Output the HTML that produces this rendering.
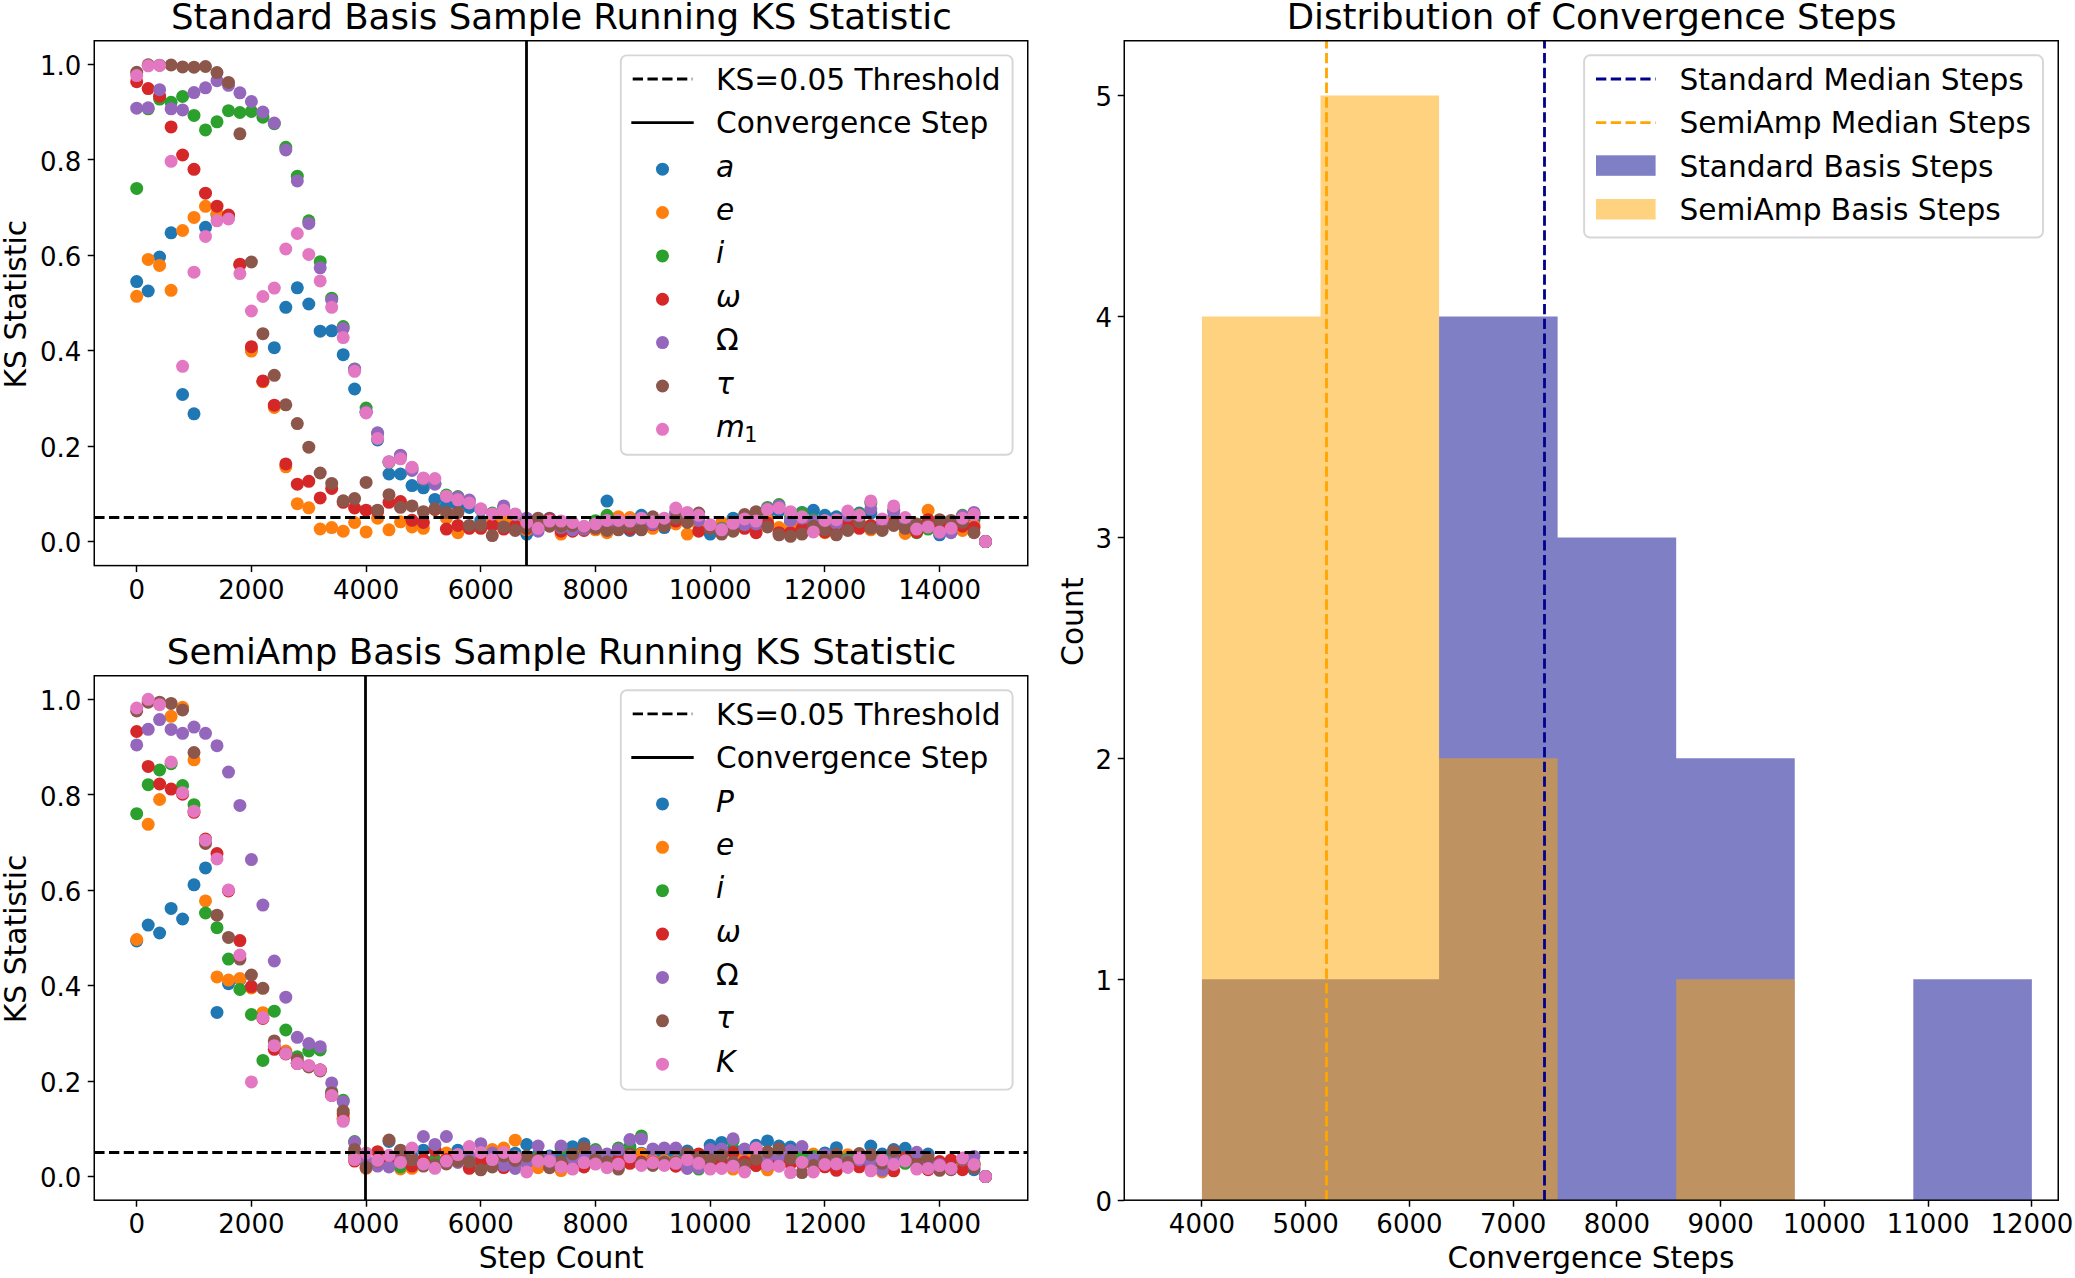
<!DOCTYPE html>
<html><head><meta charset="utf-8"><title>KS Convergence</title>
<style>html,body{margin:0;padding:0;background:#fff}svg{display:block}text{font-family:"DejaVu Sans","Liberation Sans",sans-serif;fill:#000}</style></head><body>
<svg width="2075" height="1278" viewBox="0 0 2075 1278">
<rect width="2075" height="1278" fill="#fff"/>
<g>
<g fill="#1f77b4"><circle cx="136.7" cy="281.6" r="6.5"/><circle cx="148.2" cy="291.0" r="6.5"/><circle cx="159.6" cy="257.0" r="6.5"/><circle cx="171.1" cy="232.8" r="6.5"/><circle cx="182.6" cy="394.5" r="6.5"/><circle cx="194.0" cy="413.8" r="6.5"/><circle cx="205.5" cy="227.3" r="6.5"/><circle cx="217.0" cy="215.0" r="6.5"/><circle cx="228.5" cy="216.1" r="6.5"/><circle cx="239.9" cy="264.9" r="6.5"/><circle cx="251.4" cy="349.6" r="6.5"/><circle cx="262.9" cy="381.5" r="6.5"/><circle cx="274.3" cy="347.7" r="6.5"/><circle cx="285.8" cy="307.3" r="6.5"/><circle cx="297.3" cy="287.8" r="6.5"/><circle cx="308.8" cy="304.0" r="6.5"/><circle cx="320.2" cy="331.2" r="6.5"/><circle cx="331.7" cy="330.8" r="6.5"/><circle cx="343.2" cy="354.7" r="6.5"/><circle cx="354.6" cy="389.0" r="6.5"/><circle cx="366.1" cy="412.2" r="6.5"/><circle cx="377.6" cy="440.0" r="6.5"/><circle cx="389.0" cy="474.0" r="6.5"/><circle cx="400.5" cy="474.0" r="6.5"/><circle cx="412.0" cy="485.6" r="6.5"/><circle cx="423.4" cy="487.8" r="6.5"/><circle cx="434.9" cy="499.4" r="6.5"/><circle cx="446.4" cy="504.5" r="6.5"/><circle cx="457.9" cy="505.2" r="6.5"/><circle cx="469.3" cy="507.4" r="6.5"/><circle cx="480.8" cy="520.4" r="6.5"/><circle cx="492.3" cy="518.2" r="6.5"/><circle cx="503.7" cy="519.7" r="6.5"/><circle cx="515.2" cy="519.7" r="6.5"/><circle cx="526.7" cy="534.1" r="6.5"/><circle cx="538.1" cy="522.5" r="6.5"/><circle cx="549.6" cy="518.2" r="6.5"/><circle cx="561.1" cy="525.4" r="6.5"/><circle cx="572.6" cy="526.9" r="6.5"/><circle cx="584.0" cy="527.6" r="6.5"/><circle cx="595.5" cy="524.7" r="6.5"/><circle cx="607.0" cy="501.1" r="6.5"/><circle cx="618.4" cy="523.3" r="6.5"/><circle cx="629.9" cy="530.5" r="6.5"/><circle cx="641.4" cy="515.3" r="6.5"/><circle cx="652.8" cy="523.3" r="6.5"/><circle cx="664.3" cy="527.6" r="6.5"/><circle cx="675.8" cy="513.9" r="6.5"/><circle cx="687.3" cy="518.9" r="6.5"/><circle cx="698.7" cy="518.9" r="6.5"/><circle cx="710.2" cy="534.1" r="6.5"/><circle cx="721.7" cy="530.5" r="6.5"/><circle cx="733.1" cy="518.2" r="6.5"/><circle cx="744.6" cy="521.8" r="6.5"/><circle cx="756.1" cy="523.3" r="6.5"/><circle cx="767.5" cy="513.9" r="6.5"/><circle cx="779.0" cy="511.0" r="6.5"/><circle cx="790.5" cy="521.8" r="6.5"/><circle cx="802.0" cy="512.4" r="6.5"/><circle cx="813.4" cy="510.3" r="6.5"/><circle cx="824.9" cy="515.3" r="6.5"/><circle cx="836.4" cy="516.8" r="6.5"/><circle cx="847.8" cy="516.8" r="6.5"/><circle cx="859.3" cy="513.1" r="6.5"/><circle cx="870.8" cy="513.1" r="6.5"/><circle cx="882.2" cy="522.5" r="6.5"/><circle cx="893.7" cy="516.8" r="6.5"/><circle cx="905.2" cy="521.8" r="6.5"/><circle cx="916.7" cy="526.2" r="6.5"/><circle cx="928.1" cy="525.4" r="6.5"/><circle cx="939.6" cy="534.8" r="6.5"/><circle cx="951.1" cy="528.3" r="6.5"/><circle cx="962.5" cy="520.4" r="6.5"/><circle cx="974.0" cy="519.7" r="6.5"/><circle cx="985.5" cy="541.6" r="6.5"/></g>
<g fill="#ff7f0e"><circle cx="136.7" cy="296.3" r="6.5"/><circle cx="148.2" cy="259.4" r="6.5"/><circle cx="159.6" cy="265.4" r="6.5"/><circle cx="171.1" cy="290.3" r="6.5"/><circle cx="182.6" cy="230.5" r="6.5"/><circle cx="194.0" cy="217.4" r="6.5"/><circle cx="205.5" cy="206.3" r="6.5"/><circle cx="217.0" cy="213.5" r="6.5"/><circle cx="228.5" cy="215.7" r="6.5"/><circle cx="239.9" cy="264.9" r="6.5"/><circle cx="251.4" cy="351.1" r="6.5"/><circle cx="262.9" cy="381.8" r="6.5"/><circle cx="274.3" cy="407.4" r="6.5"/><circle cx="285.8" cy="466.8" r="6.5"/><circle cx="297.3" cy="503.7" r="6.5"/><circle cx="308.8" cy="507.8" r="6.5"/><circle cx="320.2" cy="529.0" r="6.5"/><circle cx="331.7" cy="527.6" r="6.5"/><circle cx="343.2" cy="531.2" r="6.5"/><circle cx="354.6" cy="522.5" r="6.5"/><circle cx="366.1" cy="531.9" r="6.5"/><circle cx="377.6" cy="518.2" r="6.5"/><circle cx="389.0" cy="529.8" r="6.5"/><circle cx="400.5" cy="521.8" r="6.5"/><circle cx="412.0" cy="526.9" r="6.5"/><circle cx="423.4" cy="528.3" r="6.5"/><circle cx="434.9" cy="509.5" r="6.5"/><circle cx="446.4" cy="518.2" r="6.5"/><circle cx="457.9" cy="532.7" r="6.5"/><circle cx="469.3" cy="527.6" r="6.5"/><circle cx="480.8" cy="526.9" r="6.5"/><circle cx="492.3" cy="519.7" r="6.5"/><circle cx="503.7" cy="518.2" r="6.5"/><circle cx="515.2" cy="520.4" r="6.5"/><circle cx="526.7" cy="529.8" r="6.5"/><circle cx="538.1" cy="526.9" r="6.5"/><circle cx="549.6" cy="524.0" r="6.5"/><circle cx="561.1" cy="534.1" r="6.5"/><circle cx="572.6" cy="527.6" r="6.5"/><circle cx="584.0" cy="527.6" r="6.5"/><circle cx="595.5" cy="529.8" r="6.5"/><circle cx="607.0" cy="532.7" r="6.5"/><circle cx="618.4" cy="516.8" r="6.5"/><circle cx="629.9" cy="517.5" r="6.5"/><circle cx="641.4" cy="522.5" r="6.5"/><circle cx="652.8" cy="528.3" r="6.5"/><circle cx="664.3" cy="523.3" r="6.5"/><circle cx="675.8" cy="524.0" r="6.5"/><circle cx="687.3" cy="534.1" r="6.5"/><circle cx="698.7" cy="525.4" r="6.5"/><circle cx="710.2" cy="526.9" r="6.5"/><circle cx="721.7" cy="522.5" r="6.5"/><circle cx="733.1" cy="526.2" r="6.5"/><circle cx="744.6" cy="522.5" r="6.5"/><circle cx="756.1" cy="525.4" r="6.5"/><circle cx="767.5" cy="519.7" r="6.5"/><circle cx="779.0" cy="527.6" r="6.5"/><circle cx="790.5" cy="528.3" r="6.5"/><circle cx="802.0" cy="521.8" r="6.5"/><circle cx="813.4" cy="525.4" r="6.5"/><circle cx="824.9" cy="532.7" r="6.5"/><circle cx="836.4" cy="526.9" r="6.5"/><circle cx="847.8" cy="521.1" r="6.5"/><circle cx="859.3" cy="524.0" r="6.5"/><circle cx="870.8" cy="529.8" r="6.5"/><circle cx="882.2" cy="524.7" r="6.5"/><circle cx="893.7" cy="521.1" r="6.5"/><circle cx="905.2" cy="533.4" r="6.5"/><circle cx="916.7" cy="527.6" r="6.5"/><circle cx="928.1" cy="510.3" r="6.5"/><circle cx="939.6" cy="525.4" r="6.5"/><circle cx="951.1" cy="525.4" r="6.5"/><circle cx="962.5" cy="530.5" r="6.5"/><circle cx="974.0" cy="525.4" r="6.5"/><circle cx="985.5" cy="541.6" r="6.5"/></g>
<g fill="#2ca02c"><circle cx="136.7" cy="188.4" r="6.5"/><circle cx="148.2" cy="108.8" r="6.5"/><circle cx="159.6" cy="99.1" r="6.5"/><circle cx="171.1" cy="102.3" r="6.5"/><circle cx="182.6" cy="96.5" r="6.5"/><circle cx="194.0" cy="115.4" r="6.5"/><circle cx="205.5" cy="129.9" r="6.5"/><circle cx="217.0" cy="121.8" r="6.5"/><circle cx="228.5" cy="110.7" r="6.5"/><circle cx="239.9" cy="112.5" r="6.5"/><circle cx="251.4" cy="111.4" r="6.5"/><circle cx="262.9" cy="117.2" r="6.5"/><circle cx="274.3" cy="123.7" r="6.5"/><circle cx="285.8" cy="147.3" r="6.5"/><circle cx="297.3" cy="176.2" r="6.5"/><circle cx="308.8" cy="220.8" r="6.5"/><circle cx="320.2" cy="261.7" r="6.5"/><circle cx="331.7" cy="298.2" r="6.5"/><circle cx="343.2" cy="326.5" r="6.5"/><circle cx="354.6" cy="368.9" r="6.5"/><circle cx="366.1" cy="408.1" r="6.5"/><circle cx="377.6" cy="433.5" r="6.5"/><circle cx="389.0" cy="462.4" r="6.5"/><circle cx="400.5" cy="455.9" r="6.5"/><circle cx="412.0" cy="469.0" r="6.5"/><circle cx="423.4" cy="479.1" r="6.5"/><circle cx="434.9" cy="483.5" r="6.5"/><circle cx="446.4" cy="495.1" r="6.5"/><circle cx="457.9" cy="496.5" r="6.5"/><circle cx="469.3" cy="501.6" r="6.5"/><circle cx="480.8" cy="509.5" r="6.5"/><circle cx="492.3" cy="513.1" r="6.5"/><circle cx="503.7" cy="507.4" r="6.5"/><circle cx="515.2" cy="514.6" r="6.5"/><circle cx="526.7" cy="519.7" r="6.5"/><circle cx="538.1" cy="525.4" r="6.5"/><circle cx="549.6" cy="522.5" r="6.5"/><circle cx="561.1" cy="524.0" r="6.5"/><circle cx="572.6" cy="526.2" r="6.5"/><circle cx="584.0" cy="526.9" r="6.5"/><circle cx="595.5" cy="520.7" r="6.5"/><circle cx="607.0" cy="515.3" r="6.5"/><circle cx="618.4" cy="522.5" r="6.5"/><circle cx="629.9" cy="523.3" r="6.5"/><circle cx="641.4" cy="521.1" r="6.5"/><circle cx="652.8" cy="522.5" r="6.5"/><circle cx="664.3" cy="520.4" r="6.5"/><circle cx="675.8" cy="512.4" r="6.5"/><circle cx="687.3" cy="516.8" r="6.5"/><circle cx="698.7" cy="518.2" r="6.5"/><circle cx="710.2" cy="526.2" r="6.5"/><circle cx="721.7" cy="528.3" r="6.5"/><circle cx="733.1" cy="524.7" r="6.5"/><circle cx="744.6" cy="521.1" r="6.5"/><circle cx="756.1" cy="522.5" r="6.5"/><circle cx="767.5" cy="507.4" r="6.5"/><circle cx="779.0" cy="504.5" r="6.5"/><circle cx="790.5" cy="516.8" r="6.5"/><circle cx="802.0" cy="513.1" r="6.5"/><circle cx="813.4" cy="519.7" r="6.5"/><circle cx="824.9" cy="521.1" r="6.5"/><circle cx="836.4" cy="520.4" r="6.5"/><circle cx="847.8" cy="513.9" r="6.5"/><circle cx="859.3" cy="513.9" r="6.5"/><circle cx="870.8" cy="503.0" r="6.5"/><circle cx="882.2" cy="521.1" r="6.5"/><circle cx="893.7" cy="510.3" r="6.5"/><circle cx="905.2" cy="520.4" r="6.5"/><circle cx="916.7" cy="532.7" r="6.5"/><circle cx="928.1" cy="529.1" r="6.5"/><circle cx="939.6" cy="528.3" r="6.5"/><circle cx="951.1" cy="527.6" r="6.5"/><circle cx="962.5" cy="515.3" r="6.5"/><circle cx="974.0" cy="513.9" r="6.5"/><circle cx="985.5" cy="541.6" r="6.5"/></g>
<g fill="#d62728"><circle cx="136.7" cy="81.7" r="6.5"/><circle cx="148.2" cy="88.6" r="6.5"/><circle cx="159.6" cy="96.2" r="6.5"/><circle cx="171.1" cy="126.9" r="6.5"/><circle cx="182.6" cy="155.0" r="6.5"/><circle cx="194.0" cy="169.3" r="6.5"/><circle cx="205.5" cy="193.2" r="6.5"/><circle cx="217.0" cy="206.2" r="6.5"/><circle cx="228.5" cy="215.0" r="6.5"/><circle cx="239.9" cy="264.2" r="6.5"/><circle cx="251.4" cy="346.7" r="6.5"/><circle cx="262.9" cy="380.9" r="6.5"/><circle cx="274.3" cy="405.2" r="6.5"/><circle cx="285.8" cy="463.9" r="6.5"/><circle cx="297.3" cy="484.2" r="6.5"/><circle cx="308.8" cy="481.3" r="6.5"/><circle cx="320.2" cy="497.9" r="6.5"/><circle cx="331.7" cy="488.5" r="6.5"/><circle cx="343.2" cy="502.3" r="6.5"/><circle cx="354.6" cy="508.0" r="6.5"/><circle cx="366.1" cy="510.2" r="6.5"/><circle cx="377.6" cy="511.7" r="6.5"/><circle cx="389.0" cy="502.3" r="6.5"/><circle cx="400.5" cy="501.5" r="6.5"/><circle cx="412.0" cy="520.3" r="6.5"/><circle cx="423.4" cy="522.5" r="6.5"/><circle cx="434.9" cy="509.5" r="6.5"/><circle cx="446.4" cy="529.1" r="6.5"/><circle cx="457.9" cy="525.4" r="6.5"/><circle cx="469.3" cy="528.3" r="6.5"/><circle cx="480.8" cy="528.3" r="6.5"/><circle cx="492.3" cy="525.4" r="6.5"/><circle cx="503.7" cy="529.1" r="6.5"/><circle cx="515.2" cy="526.2" r="6.5"/><circle cx="526.7" cy="528.3" r="6.5"/><circle cx="538.1" cy="526.2" r="6.5"/><circle cx="549.6" cy="518.9" r="6.5"/><circle cx="561.1" cy="531.2" r="6.5"/><circle cx="572.6" cy="531.2" r="6.5"/><circle cx="584.0" cy="530.5" r="6.5"/><circle cx="595.5" cy="526.2" r="6.5"/><circle cx="607.0" cy="525.4" r="6.5"/><circle cx="618.4" cy="525.4" r="6.5"/><circle cx="629.9" cy="529.1" r="6.5"/><circle cx="641.4" cy="524.0" r="6.5"/><circle cx="652.8" cy="524.7" r="6.5"/><circle cx="664.3" cy="522.5" r="6.5"/><circle cx="675.8" cy="521.1" r="6.5"/><circle cx="687.3" cy="520.4" r="6.5"/><circle cx="698.7" cy="531.2" r="6.5"/><circle cx="710.2" cy="527.6" r="6.5"/><circle cx="721.7" cy="529.8" r="6.5"/><circle cx="733.1" cy="526.9" r="6.5"/><circle cx="744.6" cy="528.3" r="6.5"/><circle cx="756.1" cy="532.7" r="6.5"/><circle cx="767.5" cy="523.3" r="6.5"/><circle cx="779.0" cy="532.7" r="6.5"/><circle cx="790.5" cy="532.7" r="6.5"/><circle cx="802.0" cy="528.3" r="6.5"/><circle cx="813.4" cy="524.0" r="6.5"/><circle cx="824.9" cy="531.9" r="6.5"/><circle cx="836.4" cy="528.3" r="6.5"/><circle cx="847.8" cy="524.0" r="6.5"/><circle cx="859.3" cy="528.3" r="6.5"/><circle cx="870.8" cy="525.4" r="6.5"/><circle cx="882.2" cy="526.2" r="6.5"/><circle cx="893.7" cy="522.5" r="6.5"/><circle cx="905.2" cy="524.7" r="6.5"/><circle cx="916.7" cy="531.9" r="6.5"/><circle cx="928.1" cy="519.7" r="6.5"/><circle cx="939.6" cy="526.2" r="6.5"/><circle cx="951.1" cy="526.2" r="6.5"/><circle cx="962.5" cy="526.2" r="6.5"/><circle cx="974.0" cy="527.6" r="6.5"/><circle cx="985.5" cy="541.6" r="6.5"/></g>
<g fill="#9467bd"><circle cx="136.7" cy="108.2" r="6.5"/><circle cx="148.2" cy="107.8" r="6.5"/><circle cx="159.6" cy="89.7" r="6.5"/><circle cx="171.1" cy="108.8" r="6.5"/><circle cx="182.6" cy="109.9" r="6.5"/><circle cx="194.0" cy="92.6" r="6.5"/><circle cx="205.5" cy="87.8" r="6.5"/><circle cx="217.0" cy="80.7" r="6.5"/><circle cx="228.5" cy="85.3" r="6.5"/><circle cx="239.9" cy="92.8" r="6.5"/><circle cx="251.4" cy="101.5" r="6.5"/><circle cx="262.9" cy="112.1" r="6.5"/><circle cx="274.3" cy="123.0" r="6.5"/><circle cx="285.8" cy="150.0" r="6.5"/><circle cx="297.3" cy="180.9" r="6.5"/><circle cx="308.8" cy="223.4" r="6.5"/><circle cx="320.2" cy="267.8" r="6.5"/><circle cx="331.7" cy="300.1" r="6.5"/><circle cx="343.2" cy="328.6" r="6.5"/><circle cx="354.6" cy="369.2" r="6.5"/><circle cx="366.1" cy="411.8" r="6.5"/><circle cx="377.6" cy="432.8" r="6.5"/><circle cx="389.0" cy="461.7" r="6.5"/><circle cx="400.5" cy="455.2" r="6.5"/><circle cx="412.0" cy="470.4" r="6.5"/><circle cx="423.4" cy="479.1" r="6.5"/><circle cx="434.9" cy="484.2" r="6.5"/><circle cx="446.4" cy="496.5" r="6.5"/><circle cx="457.9" cy="497.2" r="6.5"/><circle cx="469.3" cy="500.1" r="6.5"/><circle cx="480.8" cy="509.5" r="6.5"/><circle cx="492.3" cy="513.9" r="6.5"/><circle cx="503.7" cy="505.9" r="6.5"/><circle cx="515.2" cy="514.6" r="6.5"/><circle cx="526.7" cy="518.2" r="6.5"/><circle cx="538.1" cy="531.2" r="6.5"/><circle cx="549.6" cy="523.3" r="6.5"/><circle cx="561.1" cy="527.6" r="6.5"/><circle cx="572.6" cy="529.8" r="6.5"/><circle cx="584.0" cy="529.1" r="6.5"/><circle cx="595.5" cy="525.4" r="6.5"/><circle cx="607.0" cy="524.0" r="6.5"/><circle cx="618.4" cy="524.0" r="6.5"/><circle cx="629.9" cy="525.4" r="6.5"/><circle cx="641.4" cy="521.8" r="6.5"/><circle cx="652.8" cy="524.0" r="6.5"/><circle cx="664.3" cy="521.1" r="6.5"/><circle cx="675.8" cy="513.1" r="6.5"/><circle cx="687.3" cy="517.5" r="6.5"/><circle cx="698.7" cy="520.4" r="6.5"/><circle cx="710.2" cy="526.9" r="6.5"/><circle cx="721.7" cy="529.1" r="6.5"/><circle cx="733.1" cy="525.4" r="6.5"/><circle cx="744.6" cy="524.7" r="6.5"/><circle cx="756.1" cy="524.0" r="6.5"/><circle cx="767.5" cy="508.8" r="6.5"/><circle cx="779.0" cy="505.9" r="6.5"/><circle cx="790.5" cy="520.4" r="6.5"/><circle cx="802.0" cy="518.2" r="6.5"/><circle cx="813.4" cy="521.1" r="6.5"/><circle cx="824.9" cy="521.8" r="6.5"/><circle cx="836.4" cy="523.3" r="6.5"/><circle cx="847.8" cy="515.3" r="6.5"/><circle cx="859.3" cy="516.8" r="6.5"/><circle cx="870.8" cy="508.8" r="6.5"/><circle cx="882.2" cy="521.8" r="6.5"/><circle cx="893.7" cy="511.7" r="6.5"/><circle cx="905.2" cy="521.1" r="6.5"/><circle cx="916.7" cy="526.9" r="6.5"/><circle cx="928.1" cy="526.2" r="6.5"/><circle cx="939.6" cy="532.7" r="6.5"/><circle cx="951.1" cy="532.7" r="6.5"/><circle cx="962.5" cy="516.0" r="6.5"/><circle cx="974.0" cy="512.4" r="6.5"/><circle cx="985.5" cy="541.6" r="6.5"/></g>
<g fill="#8c564b"><circle cx="136.7" cy="72.3" r="6.5"/><circle cx="148.2" cy="64.8" r="6.5"/><circle cx="159.6" cy="65.2" r="6.5"/><circle cx="171.1" cy="65.0" r="6.5"/><circle cx="182.6" cy="66.9" r="6.5"/><circle cx="194.0" cy="67.2" r="6.5"/><circle cx="205.5" cy="66.5" r="6.5"/><circle cx="217.0" cy="72.6" r="6.5"/><circle cx="228.5" cy="82.4" r="6.5"/><circle cx="239.9" cy="133.8" r="6.5"/><circle cx="251.4" cy="262.0" r="6.5"/><circle cx="262.9" cy="333.7" r="6.5"/><circle cx="274.3" cy="375.3" r="6.5"/><circle cx="285.8" cy="404.8" r="6.5"/><circle cx="297.3" cy="423.6" r="6.5"/><circle cx="308.8" cy="447.2" r="6.5"/><circle cx="320.2" cy="473.0" r="6.5"/><circle cx="331.7" cy="483.4" r="6.5"/><circle cx="343.2" cy="500.8" r="6.5"/><circle cx="354.6" cy="498.6" r="6.5"/><circle cx="366.1" cy="482.4" r="6.5"/><circle cx="377.6" cy="510.2" r="6.5"/><circle cx="389.0" cy="494.7" r="6.5"/><circle cx="400.5" cy="507.3" r="6.5"/><circle cx="412.0" cy="505.9" r="6.5"/><circle cx="423.4" cy="511.7" r="6.5"/><circle cx="434.9" cy="508.8" r="6.5"/><circle cx="446.4" cy="512.4" r="6.5"/><circle cx="457.9" cy="512.4" r="6.5"/><circle cx="469.3" cy="525.4" r="6.5"/><circle cx="480.8" cy="525.4" r="6.5"/><circle cx="492.3" cy="535.6" r="6.5"/><circle cx="503.7" cy="526.9" r="6.5"/><circle cx="515.2" cy="530.5" r="6.5"/><circle cx="526.7" cy="526.9" r="6.5"/><circle cx="538.1" cy="518.2" r="6.5"/><circle cx="549.6" cy="526.2" r="6.5"/><circle cx="561.1" cy="526.2" r="6.5"/><circle cx="572.6" cy="525.4" r="6.5"/><circle cx="584.0" cy="526.9" r="6.5"/><circle cx="595.5" cy="528.3" r="6.5"/><circle cx="607.0" cy="530.5" r="6.5"/><circle cx="618.4" cy="529.8" r="6.5"/><circle cx="629.9" cy="526.2" r="6.5"/><circle cx="641.4" cy="529.8" r="6.5"/><circle cx="652.8" cy="516.8" r="6.5"/><circle cx="664.3" cy="526.2" r="6.5"/><circle cx="675.8" cy="518.2" r="6.5"/><circle cx="687.3" cy="522.5" r="6.5"/><circle cx="698.7" cy="513.1" r="6.5"/><circle cx="710.2" cy="528.3" r="6.5"/><circle cx="721.7" cy="534.1" r="6.5"/><circle cx="733.1" cy="531.2" r="6.5"/><circle cx="744.6" cy="514.6" r="6.5"/><circle cx="756.1" cy="511.7" r="6.5"/><circle cx="767.5" cy="526.9" r="6.5"/><circle cx="779.0" cy="534.8" r="6.5"/><circle cx="790.5" cy="536.3" r="6.5"/><circle cx="802.0" cy="534.1" r="6.5"/><circle cx="813.4" cy="526.2" r="6.5"/><circle cx="824.9" cy="529.8" r="6.5"/><circle cx="836.4" cy="534.8" r="6.5"/><circle cx="847.8" cy="530.5" r="6.5"/><circle cx="859.3" cy="521.8" r="6.5"/><circle cx="870.8" cy="528.3" r="6.5"/><circle cx="882.2" cy="530.5" r="6.5"/><circle cx="893.7" cy="525.4" r="6.5"/><circle cx="905.2" cy="528.3" r="6.5"/><circle cx="916.7" cy="524.0" r="6.5"/><circle cx="928.1" cy="526.2" r="6.5"/><circle cx="939.6" cy="519.7" r="6.5"/><circle cx="951.1" cy="520.4" r="6.5"/><circle cx="962.5" cy="522.5" r="6.5"/><circle cx="974.0" cy="532.7" r="6.5"/><circle cx="985.5" cy="541.6" r="6.5"/></g>
<g fill="#e377c2"><circle cx="136.7" cy="75.6" r="6.5"/><circle cx="148.2" cy="65.8" r="6.5"/><circle cx="159.6" cy="65.5" r="6.5"/><circle cx="171.1" cy="161.3" r="6.5"/><circle cx="182.6" cy="366.3" r="6.5"/><circle cx="194.0" cy="272.2" r="6.5"/><circle cx="205.5" cy="236.4" r="6.5"/><circle cx="217.0" cy="220.8" r="6.5"/><circle cx="228.5" cy="219.0" r="6.5"/><circle cx="239.9" cy="273.6" r="6.5"/><circle cx="251.4" cy="311.0" r="6.5"/><circle cx="262.9" cy="296.5" r="6.5"/><circle cx="274.3" cy="288.1" r="6.5"/><circle cx="285.8" cy="249.0" r="6.5"/><circle cx="297.3" cy="233.5" r="6.5"/><circle cx="308.8" cy="254.4" r="6.5"/><circle cx="320.2" cy="280.9" r="6.5"/><circle cx="331.7" cy="307.3" r="6.5"/><circle cx="343.2" cy="337.6" r="6.5"/><circle cx="354.6" cy="371.3" r="6.5"/><circle cx="366.1" cy="412.9" r="6.5"/><circle cx="377.6" cy="438.5" r="6.5"/><circle cx="389.0" cy="462.0" r="6.5"/><circle cx="400.5" cy="458.8" r="6.5"/><circle cx="412.0" cy="467.2" r="6.5"/><circle cx="423.4" cy="477.9" r="6.5"/><circle cx="434.9" cy="478.5" r="6.5"/><circle cx="446.4" cy="496.2" r="6.5"/><circle cx="457.9" cy="499.8" r="6.5"/><circle cx="469.3" cy="503.0" r="6.5"/><circle cx="480.8" cy="508.8" r="6.5"/><circle cx="492.3" cy="513.9" r="6.5"/><circle cx="503.7" cy="510.3" r="6.5"/><circle cx="515.2" cy="513.9" r="6.5"/><circle cx="526.7" cy="522.5" r="6.5"/><circle cx="538.1" cy="528.3" r="6.5"/><circle cx="549.6" cy="521.1" r="6.5"/><circle cx="561.1" cy="521.1" r="6.5"/><circle cx="572.6" cy="522.5" r="6.5"/><circle cx="584.0" cy="526.2" r="6.5"/><circle cx="595.5" cy="524.0" r="6.5"/><circle cx="607.0" cy="520.4" r="6.5"/><circle cx="618.4" cy="520.4" r="6.5"/><circle cx="629.9" cy="521.1" r="6.5"/><circle cx="641.4" cy="518.2" r="6.5"/><circle cx="652.8" cy="521.8" r="6.5"/><circle cx="664.3" cy="518.2" r="6.5"/><circle cx="675.8" cy="508.1" r="6.5"/><circle cx="687.3" cy="512.4" r="6.5"/><circle cx="698.7" cy="515.3" r="6.5"/><circle cx="710.2" cy="524.7" r="6.5"/><circle cx="721.7" cy="529.8" r="6.5"/><circle cx="733.1" cy="523.3" r="6.5"/><circle cx="744.6" cy="518.9" r="6.5"/><circle cx="756.1" cy="521.1" r="6.5"/><circle cx="767.5" cy="509.5" r="6.5"/><circle cx="779.0" cy="508.1" r="6.5"/><circle cx="790.5" cy="511.7" r="6.5"/><circle cx="802.0" cy="516.8" r="6.5"/><circle cx="813.4" cy="531.9" r="6.5"/><circle cx="824.9" cy="520.4" r="6.5"/><circle cx="836.4" cy="519.7" r="6.5"/><circle cx="847.8" cy="511.0" r="6.5"/><circle cx="859.3" cy="515.3" r="6.5"/><circle cx="870.8" cy="500.9" r="6.5"/><circle cx="882.2" cy="518.9" r="6.5"/><circle cx="893.7" cy="505.9" r="6.5"/><circle cx="905.2" cy="517.5" r="6.5"/><circle cx="916.7" cy="529.1" r="6.5"/><circle cx="928.1" cy="526.9" r="6.5"/><circle cx="939.6" cy="531.9" r="6.5"/><circle cx="951.1" cy="528.3" r="6.5"/><circle cx="962.5" cy="518.2" r="6.5"/><circle cx="974.0" cy="514.6" r="6.5"/><circle cx="985.5" cy="541.6" r="6.5"/></g>
</g>
<line x1="94.25" y1="517.50" x2="1027.75" y2="517.50" stroke="#000" stroke-width="2.80" stroke-dasharray="10.3 4.45"/>
<line x1="526.50" y1="40.75" x2="526.50" y2="565.60" stroke="#000" stroke-width="2.80"/>
<rect x="94.25" y="40.75" width="933.50" height="524.85" fill="none" stroke="#000" stroke-width="1.49"/>
<line x1="136.50" y1="565.60" x2="136.50" y2="572.10" stroke="#000" stroke-width="1.49"/>
<text x="136.70" y="598.70" font-size="26.00" text-anchor="middle">0</text>
<line x1="251.50" y1="565.60" x2="251.50" y2="572.10" stroke="#000" stroke-width="1.49"/>
<text x="251.40" y="598.70" font-size="26.00" text-anchor="middle">2000</text>
<line x1="366.50" y1="565.60" x2="366.50" y2="572.10" stroke="#000" stroke-width="1.49"/>
<text x="366.10" y="598.70" font-size="26.00" text-anchor="middle">4000</text>
<line x1="480.50" y1="565.60" x2="480.50" y2="572.10" stroke="#000" stroke-width="1.49"/>
<text x="480.80" y="598.70" font-size="26.00" text-anchor="middle">6000</text>
<line x1="595.50" y1="565.60" x2="595.50" y2="572.10" stroke="#000" stroke-width="1.49"/>
<text x="595.50" y="598.70" font-size="26.00" text-anchor="middle">8000</text>
<line x1="710.50" y1="565.60" x2="710.50" y2="572.10" stroke="#000" stroke-width="1.49"/>
<text x="710.20" y="598.70" font-size="26.00" text-anchor="middle">10000</text>
<line x1="824.50" y1="565.60" x2="824.50" y2="572.10" stroke="#000" stroke-width="1.49"/>
<text x="824.90" y="598.70" font-size="26.00" text-anchor="middle">12000</text>
<line x1="939.50" y1="565.60" x2="939.50" y2="572.10" stroke="#000" stroke-width="1.49"/>
<text x="939.60" y="598.70" font-size="26.00" text-anchor="middle">14000</text>
<line x1="87.75" y1="541.50" x2="94.25" y2="541.50" stroke="#000" stroke-width="1.49"/>
<text x="81.40" y="552.00" font-size="26.00" text-anchor="end">0.0</text>
<line x1="87.75" y1="446.50" x2="94.25" y2="446.50" stroke="#000" stroke-width="1.49"/>
<text x="81.40" y="456.64" font-size="26.00" text-anchor="end">0.2</text>
<line x1="87.75" y1="350.50" x2="94.25" y2="350.50" stroke="#000" stroke-width="1.49"/>
<text x="81.40" y="361.28" font-size="26.00" text-anchor="end">0.4</text>
<line x1="87.75" y1="255.50" x2="94.25" y2="255.50" stroke="#000" stroke-width="1.49"/>
<text x="81.40" y="265.92" font-size="26.00" text-anchor="end">0.6</text>
<line x1="87.75" y1="159.50" x2="94.25" y2="159.50" stroke="#000" stroke-width="1.49"/>
<text x="81.40" y="170.56" font-size="26.00" text-anchor="end">0.8</text>
<line x1="87.75" y1="64.50" x2="94.25" y2="64.50" stroke="#000" stroke-width="1.49"/>
<text x="81.40" y="75.20" font-size="26.00" text-anchor="end">1.0</text>
<rect x="620.80" y="55.40" width="391.80" height="399.40" rx="6" ry="6" fill="#fff" fill-opacity="0.8" stroke="#ccc" stroke-opacity="0.8" stroke-width="1.9"/>
<line x1="632.70" y1="79.00" x2="692.30" y2="79.00" stroke="#000" stroke-width="2.80" stroke-dasharray="10.3 4.464"/>
<text x="716.10" y="90.00" font-size="29.63">KS=0.05 Threshold</text>
<line x1="632.70" y1="122.70" x2="692.30" y2="122.70" stroke="#000" stroke-width="2.80" stroke-linecap="square"/>
<text x="716.10" y="133.37" font-size="29.63">Convergence Step</text>
<circle cx="662.50" cy="169.14" r="6.5" fill="#1f77b4"/>
<text x="716.10" y="176.74" font-size="29.63"><tspan font-style="italic">a</tspan></text>
<circle cx="662.50" cy="212.51" r="6.5" fill="#ff7f0e"/>
<text x="716.10" y="220.11" font-size="29.63"><tspan font-style="italic">e</tspan></text>
<circle cx="662.50" cy="255.88" r="6.5" fill="#2ca02c"/>
<text x="716.10" y="263.48" font-size="29.63"><tspan font-style="italic">i</tspan></text>
<circle cx="662.50" cy="299.25" r="6.5" fill="#d62728"/>
<text x="716.10" y="306.85" font-size="29.63"><tspan font-style="italic">ω</tspan></text>
<circle cx="662.50" cy="342.62" r="6.5" fill="#9467bd"/>
<text x="716.10" y="350.22" font-size="29.63">Ω</text>
<circle cx="662.50" cy="385.99" r="6.5" fill="#8c564b"/>
<text x="716.10" y="393.59" font-size="29.63"><tspan font-style="italic">τ</tspan></text>
<circle cx="662.50" cy="429.36" r="6.5" fill="#e377c2"/>
<text x="716.10" y="436.96" font-size="29.63"><tspan font-style="italic">m</tspan><tspan font-size="20.74" dx="-0.8" dy="4.9">1</tspan></text>
<g>
<g fill="#1f77b4"><circle cx="136.7" cy="941.0" r="6.5"/><circle cx="148.2" cy="925.1" r="6.5"/><circle cx="159.6" cy="933.0" r="6.5"/><circle cx="171.1" cy="908.4" r="6.5"/><circle cx="182.6" cy="919.0" r="6.5"/><circle cx="194.0" cy="884.8" r="6.5"/><circle cx="205.5" cy="867.9" r="6.5"/><circle cx="217.0" cy="1012.4" r="6.5"/><circle cx="228.5" cy="983.7" r="6.5"/><circle cx="239.9" cy="979.4" r="6.5"/><circle cx="251.4" cy="987.3" r="6.5"/><circle cx="262.9" cy="1014.1" r="6.5"/><circle cx="274.3" cy="1046.7" r="6.5"/><circle cx="285.8" cy="1053.2" r="6.5"/><circle cx="297.3" cy="1063.3" r="6.5"/><circle cx="308.8" cy="1066.2" r="6.5"/><circle cx="320.2" cy="1070.1" r="6.5"/><circle cx="331.7" cy="1095.2" r="6.5"/><circle cx="343.2" cy="1119.1" r="6.5"/><circle cx="354.6" cy="1155.3" r="6.5"/><circle cx="366.1" cy="1161.1" r="6.5"/><circle cx="377.6" cy="1161.1" r="6.5"/><circle cx="389.0" cy="1141.5" r="6.5"/><circle cx="400.5" cy="1159.6" r="6.5"/><circle cx="412.0" cy="1156.7" r="6.5"/><circle cx="423.4" cy="1150.2" r="6.5"/><circle cx="434.9" cy="1159.6" r="6.5"/><circle cx="446.4" cy="1159.6" r="6.5"/><circle cx="457.9" cy="1150.2" r="6.5"/><circle cx="469.3" cy="1158.2" r="6.5"/><circle cx="480.8" cy="1162.5" r="6.5"/><circle cx="492.3" cy="1161.1" r="6.5"/><circle cx="503.7" cy="1159.6" r="6.5"/><circle cx="515.2" cy="1153.2" r="6.5"/><circle cx="526.7" cy="1144.5" r="6.5"/><circle cx="538.1" cy="1154.7" r="6.5"/><circle cx="549.6" cy="1156.1" r="6.5"/><circle cx="561.1" cy="1156.1" r="6.5"/><circle cx="572.6" cy="1146.7" r="6.5"/><circle cx="584.0" cy="1143.8" r="6.5"/><circle cx="595.5" cy="1156.1" r="6.5"/><circle cx="607.0" cy="1159.0" r="6.5"/><circle cx="618.4" cy="1156.1" r="6.5"/><circle cx="629.9" cy="1146.7" r="6.5"/><circle cx="641.4" cy="1153.2" r="6.5"/><circle cx="652.8" cy="1156.1" r="6.5"/><circle cx="664.3" cy="1156.1" r="6.5"/><circle cx="675.8" cy="1156.1" r="6.5"/><circle cx="687.3" cy="1151.0" r="6.5"/><circle cx="698.7" cy="1160.4" r="6.5"/><circle cx="710.2" cy="1145.3" r="6.5"/><circle cx="721.7" cy="1142.4" r="6.5"/><circle cx="733.1" cy="1148.9" r="6.5"/><circle cx="744.6" cy="1156.1" r="6.5"/><circle cx="756.1" cy="1145.3" r="6.5"/><circle cx="767.5" cy="1140.9" r="6.5"/><circle cx="779.0" cy="1146.0" r="6.5"/><circle cx="790.5" cy="1147.1" r="6.5"/><circle cx="802.0" cy="1154.1" r="6.5"/><circle cx="813.4" cy="1157.5" r="6.5"/><circle cx="824.9" cy="1152.9" r="6.5"/><circle cx="836.4" cy="1147.7" r="6.5"/><circle cx="847.8" cy="1158.7" r="6.5"/><circle cx="859.3" cy="1157.5" r="6.5"/><circle cx="870.8" cy="1146.0" r="6.5"/><circle cx="882.2" cy="1154.1" r="6.5"/><circle cx="893.7" cy="1149.5" r="6.5"/><circle cx="905.2" cy="1148.3" r="6.5"/><circle cx="916.7" cy="1156.4" r="6.5"/><circle cx="928.1" cy="1154.1" r="6.5"/><circle cx="939.6" cy="1163.3" r="6.5"/><circle cx="951.1" cy="1168.0" r="6.5"/><circle cx="962.5" cy="1159.9" r="6.5"/><circle cx="974.0" cy="1169.7" r="6.5"/><circle cx="985.5" cy="1176.6" r="6.5"/></g>
<g fill="#ff7f0e"><circle cx="136.7" cy="939.5" r="6.5"/><circle cx="148.2" cy="824.3" r="6.5"/><circle cx="159.6" cy="799.5" r="6.5"/><circle cx="171.1" cy="716.3" r="6.5"/><circle cx="182.6" cy="707.3" r="6.5"/><circle cx="194.0" cy="759.8" r="6.5"/><circle cx="205.5" cy="900.9" r="6.5"/><circle cx="217.0" cy="976.9" r="6.5"/><circle cx="228.5" cy="980.1" r="6.5"/><circle cx="239.9" cy="978.6" r="6.5"/><circle cx="251.4" cy="988.0" r="6.5"/><circle cx="262.9" cy="1012.7" r="6.5"/><circle cx="274.3" cy="1046.7" r="6.5"/><circle cx="285.8" cy="1051.0" r="6.5"/><circle cx="297.3" cy="1063.3" r="6.5"/><circle cx="308.8" cy="1066.2" r="6.5"/><circle cx="320.2" cy="1070.1" r="6.5"/><circle cx="331.7" cy="1095.2" r="6.5"/><circle cx="343.2" cy="1119.1" r="6.5"/><circle cx="354.6" cy="1158.2" r="6.5"/><circle cx="366.1" cy="1168.3" r="6.5"/><circle cx="377.6" cy="1161.1" r="6.5"/><circle cx="389.0" cy="1161.1" r="6.5"/><circle cx="400.5" cy="1169.0" r="6.5"/><circle cx="412.0" cy="1168.3" r="6.5"/><circle cx="423.4" cy="1161.1" r="6.5"/><circle cx="434.9" cy="1162.5" r="6.5"/><circle cx="446.4" cy="1153.1" r="6.5"/><circle cx="457.9" cy="1161.1" r="6.5"/><circle cx="469.3" cy="1161.1" r="6.5"/><circle cx="480.8" cy="1158.2" r="6.5"/><circle cx="492.3" cy="1149.5" r="6.5"/><circle cx="503.7" cy="1148.0" r="6.5"/><circle cx="515.2" cy="1140.2" r="6.5"/><circle cx="526.7" cy="1163.3" r="6.5"/><circle cx="538.1" cy="1167.7" r="6.5"/><circle cx="549.6" cy="1161.9" r="6.5"/><circle cx="561.1" cy="1170.6" r="6.5"/><circle cx="572.6" cy="1161.9" r="6.5"/><circle cx="584.0" cy="1153.9" r="6.5"/><circle cx="595.5" cy="1161.9" r="6.5"/><circle cx="607.0" cy="1161.9" r="6.5"/><circle cx="618.4" cy="1161.9" r="6.5"/><circle cx="629.9" cy="1160.4" r="6.5"/><circle cx="641.4" cy="1153.9" r="6.5"/><circle cx="652.8" cy="1160.4" r="6.5"/><circle cx="664.3" cy="1160.4" r="6.5"/><circle cx="675.8" cy="1161.2" r="6.5"/><circle cx="687.3" cy="1160.4" r="6.5"/><circle cx="698.7" cy="1161.9" r="6.5"/><circle cx="710.2" cy="1161.9" r="6.5"/><circle cx="721.7" cy="1161.9" r="6.5"/><circle cx="733.1" cy="1169.1" r="6.5"/><circle cx="744.6" cy="1155.4" r="6.5"/><circle cx="756.1" cy="1160.4" r="6.5"/><circle cx="767.5" cy="1169.8" r="6.5"/><circle cx="779.0" cy="1161.9" r="6.5"/><circle cx="790.5" cy="1163.3" r="6.5"/><circle cx="802.0" cy="1162.2" r="6.5"/><circle cx="813.4" cy="1154.1" r="6.5"/><circle cx="824.9" cy="1161.0" r="6.5"/><circle cx="836.4" cy="1161.0" r="6.5"/><circle cx="847.8" cy="1154.7" r="6.5"/><circle cx="859.3" cy="1159.9" r="6.5"/><circle cx="870.8" cy="1162.2" r="6.5"/><circle cx="882.2" cy="1172.0" r="6.5"/><circle cx="893.7" cy="1162.2" r="6.5"/><circle cx="905.2" cy="1159.9" r="6.5"/><circle cx="916.7" cy="1162.2" r="6.5"/><circle cx="928.1" cy="1163.3" r="6.5"/><circle cx="939.6" cy="1165.6" r="6.5"/><circle cx="951.1" cy="1166.8" r="6.5"/><circle cx="962.5" cy="1163.3" r="6.5"/><circle cx="974.0" cy="1164.5" r="6.5"/><circle cx="985.5" cy="1176.6" r="6.5"/></g>
<g fill="#2ca02c"><circle cx="136.7" cy="813.7" r="6.5"/><circle cx="148.2" cy="784.7" r="6.5"/><circle cx="159.6" cy="770.0" r="6.5"/><circle cx="171.1" cy="763.7" r="6.5"/><circle cx="182.6" cy="785.5" r="6.5"/><circle cx="194.0" cy="804.7" r="6.5"/><circle cx="205.5" cy="913.0" r="6.5"/><circle cx="217.0" cy="927.7" r="6.5"/><circle cx="228.5" cy="959.1" r="6.5"/><circle cx="239.9" cy="989.5" r="6.5"/><circle cx="251.4" cy="1014.5" r="6.5"/><circle cx="262.9" cy="1060.4" r="6.5"/><circle cx="274.3" cy="1011.2" r="6.5"/><circle cx="285.8" cy="1030.0" r="6.5"/><circle cx="297.3" cy="1056.8" r="6.5"/><circle cx="308.8" cy="1051.0" r="6.5"/><circle cx="320.2" cy="1049.9" r="6.5"/><circle cx="331.7" cy="1091.6" r="6.5"/><circle cx="343.2" cy="1100.3" r="6.5"/><circle cx="354.6" cy="1141.5" r="6.5"/><circle cx="366.1" cy="1161.1" r="6.5"/><circle cx="377.6" cy="1161.1" r="6.5"/><circle cx="389.0" cy="1161.1" r="6.5"/><circle cx="400.5" cy="1166.9" r="6.5"/><circle cx="412.0" cy="1159.6" r="6.5"/><circle cx="423.4" cy="1161.1" r="6.5"/><circle cx="434.9" cy="1161.1" r="6.5"/><circle cx="446.4" cy="1161.1" r="6.5"/><circle cx="457.9" cy="1161.1" r="6.5"/><circle cx="469.3" cy="1161.1" r="6.5"/><circle cx="480.8" cy="1161.1" r="6.5"/><circle cx="492.3" cy="1161.1" r="6.5"/><circle cx="503.7" cy="1161.1" r="6.5"/><circle cx="515.2" cy="1160.4" r="6.5"/><circle cx="526.7" cy="1160.4" r="6.5"/><circle cx="538.1" cy="1157.5" r="6.5"/><circle cx="549.6" cy="1159.0" r="6.5"/><circle cx="561.1" cy="1148.1" r="6.5"/><circle cx="572.6" cy="1159.0" r="6.5"/><circle cx="584.0" cy="1156.1" r="6.5"/><circle cx="595.5" cy="1149.6" r="6.5"/><circle cx="607.0" cy="1159.0" r="6.5"/><circle cx="618.4" cy="1148.1" r="6.5"/><circle cx="629.9" cy="1148.9" r="6.5"/><circle cx="641.4" cy="1135.9" r="6.5"/><circle cx="652.8" cy="1163.3" r="6.5"/><circle cx="664.3" cy="1163.3" r="6.5"/><circle cx="675.8" cy="1163.3" r="6.5"/><circle cx="687.3" cy="1159.0" r="6.5"/><circle cx="698.7" cy="1169.1" r="6.5"/><circle cx="710.2" cy="1156.1" r="6.5"/><circle cx="721.7" cy="1154.7" r="6.5"/><circle cx="733.1" cy="1140.9" r="6.5"/><circle cx="744.6" cy="1165.5" r="6.5"/><circle cx="756.1" cy="1165.5" r="6.5"/><circle cx="767.5" cy="1165.5" r="6.5"/><circle cx="779.0" cy="1165.5" r="6.5"/><circle cx="790.5" cy="1157.5" r="6.5"/><circle cx="802.0" cy="1155.2" r="6.5"/><circle cx="813.4" cy="1156.4" r="6.5"/><circle cx="824.9" cy="1157.5" r="6.5"/><circle cx="836.4" cy="1157.5" r="6.5"/><circle cx="847.8" cy="1158.7" r="6.5"/><circle cx="859.3" cy="1157.5" r="6.5"/><circle cx="870.8" cy="1157.5" r="6.5"/><circle cx="882.2" cy="1158.7" r="6.5"/><circle cx="893.7" cy="1157.5" r="6.5"/><circle cx="905.2" cy="1163.3" r="6.5"/><circle cx="916.7" cy="1157.5" r="6.5"/><circle cx="928.1" cy="1159.9" r="6.5"/><circle cx="939.6" cy="1163.3" r="6.5"/><circle cx="951.1" cy="1168.0" r="6.5"/><circle cx="962.5" cy="1159.9" r="6.5"/><circle cx="974.0" cy="1163.3" r="6.5"/><circle cx="985.5" cy="1176.6" r="6.5"/></g>
<g fill="#d62728"><circle cx="136.7" cy="731.5" r="6.5"/><circle cx="148.2" cy="766.4" r="6.5"/><circle cx="159.6" cy="784.0" r="6.5"/><circle cx="171.1" cy="789.1" r="6.5"/><circle cx="182.6" cy="794.2" r="6.5"/><circle cx="194.0" cy="812.3" r="6.5"/><circle cx="205.5" cy="839.0" r="6.5"/><circle cx="217.0" cy="853.5" r="6.5"/><circle cx="228.5" cy="891.0" r="6.5"/><circle cx="239.9" cy="940.6" r="6.5"/><circle cx="251.4" cy="986.6" r="6.5"/><circle cx="262.9" cy="1018.5" r="6.5"/><circle cx="274.3" cy="1049.3" r="6.5"/><circle cx="285.8" cy="1053.9" r="6.5"/><circle cx="297.3" cy="1063.3" r="6.5"/><circle cx="308.8" cy="1066.2" r="6.5"/><circle cx="320.2" cy="1070.1" r="6.5"/><circle cx="331.7" cy="1095.2" r="6.5"/><circle cx="343.2" cy="1114.0" r="6.5"/><circle cx="354.6" cy="1161.1" r="6.5"/><circle cx="366.1" cy="1161.1" r="6.5"/><circle cx="377.6" cy="1151.7" r="6.5"/><circle cx="389.0" cy="1158.2" r="6.5"/><circle cx="400.5" cy="1156.7" r="6.5"/><circle cx="412.0" cy="1166.1" r="6.5"/><circle cx="423.4" cy="1159.6" r="6.5"/><circle cx="434.9" cy="1150.2" r="6.5"/><circle cx="446.4" cy="1159.6" r="6.5"/><circle cx="457.9" cy="1159.6" r="6.5"/><circle cx="469.3" cy="1168.3" r="6.5"/><circle cx="480.8" cy="1161.1" r="6.5"/><circle cx="492.3" cy="1161.1" r="6.5"/><circle cx="503.7" cy="1167.6" r="6.5"/><circle cx="515.2" cy="1161.9" r="6.5"/><circle cx="526.7" cy="1161.9" r="6.5"/><circle cx="538.1" cy="1160.4" r="6.5"/><circle cx="549.6" cy="1160.4" r="6.5"/><circle cx="561.1" cy="1161.9" r="6.5"/><circle cx="572.6" cy="1161.9" r="6.5"/><circle cx="584.0" cy="1166.9" r="6.5"/><circle cx="595.5" cy="1161.9" r="6.5"/><circle cx="607.0" cy="1161.9" r="6.5"/><circle cx="618.4" cy="1160.4" r="6.5"/><circle cx="629.9" cy="1163.3" r="6.5"/><circle cx="641.4" cy="1161.9" r="6.5"/><circle cx="652.8" cy="1161.9" r="6.5"/><circle cx="664.3" cy="1162.6" r="6.5"/><circle cx="675.8" cy="1166.2" r="6.5"/><circle cx="687.3" cy="1161.9" r="6.5"/><circle cx="698.7" cy="1153.9" r="6.5"/><circle cx="710.2" cy="1161.9" r="6.5"/><circle cx="721.7" cy="1161.9" r="6.5"/><circle cx="733.1" cy="1152.5" r="6.5"/><circle cx="744.6" cy="1161.9" r="6.5"/><circle cx="756.1" cy="1165.5" r="6.5"/><circle cx="767.5" cy="1161.9" r="6.5"/><circle cx="779.0" cy="1161.9" r="6.5"/><circle cx="790.5" cy="1163.3" r="6.5"/><circle cx="802.0" cy="1163.3" r="6.5"/><circle cx="813.4" cy="1164.5" r="6.5"/><circle cx="824.9" cy="1166.8" r="6.5"/><circle cx="836.4" cy="1170.3" r="6.5"/><circle cx="847.8" cy="1163.3" r="6.5"/><circle cx="859.3" cy="1166.8" r="6.5"/><circle cx="870.8" cy="1163.3" r="6.5"/><circle cx="882.2" cy="1163.3" r="6.5"/><circle cx="893.7" cy="1170.8" r="6.5"/><circle cx="905.2" cy="1157.5" r="6.5"/><circle cx="916.7" cy="1163.3" r="6.5"/><circle cx="928.1" cy="1169.7" r="6.5"/><circle cx="939.6" cy="1161.6" r="6.5"/><circle cx="951.1" cy="1159.9" r="6.5"/><circle cx="962.5" cy="1169.7" r="6.5"/><circle cx="974.0" cy="1164.5" r="6.5"/><circle cx="985.5" cy="1176.6" r="6.5"/></g>
<g fill="#9467bd"><circle cx="136.7" cy="744.9" r="6.5"/><circle cx="148.2" cy="729.3" r="6.5"/><circle cx="159.6" cy="719.6" r="6.5"/><circle cx="171.1" cy="729.4" r="6.5"/><circle cx="182.6" cy="733.3" r="6.5"/><circle cx="194.0" cy="727.1" r="6.5"/><circle cx="205.5" cy="733.3" r="6.5"/><circle cx="217.0" cy="745.7" r="6.5"/><circle cx="228.5" cy="772.1" r="6.5"/><circle cx="239.9" cy="805.4" r="6.5"/><circle cx="251.4" cy="859.6" r="6.5"/><circle cx="262.9" cy="905.1" r="6.5"/><circle cx="274.3" cy="961.0" r="6.5"/><circle cx="285.8" cy="997.2" r="6.5"/><circle cx="297.3" cy="1037.3" r="6.5"/><circle cx="308.8" cy="1043.5" r="6.5"/><circle cx="320.2" cy="1046.7" r="6.5"/><circle cx="331.7" cy="1082.9" r="6.5"/><circle cx="343.2" cy="1101.7" r="6.5"/><circle cx="354.6" cy="1142.3" r="6.5"/><circle cx="366.1" cy="1161.1" r="6.5"/><circle cx="377.6" cy="1166.1" r="6.5"/><circle cx="389.0" cy="1166.9" r="6.5"/><circle cx="400.5" cy="1161.1" r="6.5"/><circle cx="412.0" cy="1159.6" r="6.5"/><circle cx="423.4" cy="1136.5" r="6.5"/><circle cx="434.9" cy="1144.4" r="6.5"/><circle cx="446.4" cy="1136.5" r="6.5"/><circle cx="457.9" cy="1162.5" r="6.5"/><circle cx="469.3" cy="1156.7" r="6.5"/><circle cx="480.8" cy="1143.7" r="6.5"/><circle cx="492.3" cy="1153.1" r="6.5"/><circle cx="503.7" cy="1165.4" r="6.5"/><circle cx="515.2" cy="1168.4" r="6.5"/><circle cx="526.7" cy="1162.6" r="6.5"/><circle cx="538.1" cy="1146.0" r="6.5"/><circle cx="549.6" cy="1157.5" r="6.5"/><circle cx="561.1" cy="1146.0" r="6.5"/><circle cx="572.6" cy="1159.0" r="6.5"/><circle cx="584.0" cy="1157.5" r="6.5"/><circle cx="595.5" cy="1151.0" r="6.5"/><circle cx="607.0" cy="1153.9" r="6.5"/><circle cx="618.4" cy="1149.6" r="6.5"/><circle cx="629.9" cy="1139.5" r="6.5"/><circle cx="641.4" cy="1138.8" r="6.5"/><circle cx="652.8" cy="1148.9" r="6.5"/><circle cx="664.3" cy="1148.1" r="6.5"/><circle cx="675.8" cy="1148.1" r="6.5"/><circle cx="687.3" cy="1168.4" r="6.5"/><circle cx="698.7" cy="1167.7" r="6.5"/><circle cx="710.2" cy="1149.6" r="6.5"/><circle cx="721.7" cy="1148.9" r="6.5"/><circle cx="733.1" cy="1138.8" r="6.5"/><circle cx="744.6" cy="1148.9" r="6.5"/><circle cx="756.1" cy="1151.8" r="6.5"/><circle cx="767.5" cy="1157.5" r="6.5"/><circle cx="779.0" cy="1156.1" r="6.5"/><circle cx="790.5" cy="1150.6" r="6.5"/><circle cx="802.0" cy="1146.6" r="6.5"/><circle cx="813.4" cy="1159.3" r="6.5"/><circle cx="824.9" cy="1154.7" r="6.5"/><circle cx="836.4" cy="1159.9" r="6.5"/><circle cx="847.8" cy="1161.0" r="6.5"/><circle cx="859.3" cy="1159.9" r="6.5"/><circle cx="870.8" cy="1163.3" r="6.5"/><circle cx="882.2" cy="1170.3" r="6.5"/><circle cx="893.7" cy="1161.0" r="6.5"/><circle cx="905.2" cy="1159.9" r="6.5"/><circle cx="916.7" cy="1152.3" r="6.5"/><circle cx="928.1" cy="1162.2" r="6.5"/><circle cx="939.6" cy="1164.5" r="6.5"/><circle cx="951.1" cy="1168.5" r="6.5"/><circle cx="962.5" cy="1159.9" r="6.5"/><circle cx="974.0" cy="1156.4" r="6.5"/><circle cx="985.5" cy="1176.6" r="6.5"/></g>
<g fill="#8c564b"><circle cx="136.7" cy="710.9" r="6.5"/><circle cx="148.2" cy="702.2" r="6.5"/><circle cx="159.6" cy="702.2" r="6.5"/><circle cx="171.1" cy="703.4" r="6.5"/><circle cx="182.6" cy="709.9" r="6.5"/><circle cx="194.0" cy="752.5" r="6.5"/><circle cx="205.5" cy="843.4" r="6.5"/><circle cx="217.0" cy="915.2" r="6.5"/><circle cx="228.5" cy="937.4" r="6.5"/><circle cx="239.9" cy="959.1" r="6.5"/><circle cx="251.4" cy="975.0" r="6.5"/><circle cx="262.9" cy="988.3" r="6.5"/><circle cx="274.3" cy="1040.9" r="6.5"/><circle cx="285.8" cy="1053.2" r="6.5"/><circle cx="297.3" cy="1059.7" r="6.5"/><circle cx="308.8" cy="1067.0" r="6.5"/><circle cx="320.2" cy="1071.0" r="6.5"/><circle cx="331.7" cy="1093.0" r="6.5"/><circle cx="343.2" cy="1111.1" r="6.5"/><circle cx="354.6" cy="1149.5" r="6.5"/><circle cx="366.1" cy="1167.6" r="6.5"/><circle cx="377.6" cy="1161.1" r="6.5"/><circle cx="389.0" cy="1140.1" r="6.5"/><circle cx="400.5" cy="1150.2" r="6.5"/><circle cx="412.0" cy="1159.6" r="6.5"/><circle cx="423.4" cy="1166.1" r="6.5"/><circle cx="434.9" cy="1164.7" r="6.5"/><circle cx="446.4" cy="1164.0" r="6.5"/><circle cx="457.9" cy="1161.1" r="6.5"/><circle cx="469.3" cy="1161.8" r="6.5"/><circle cx="480.8" cy="1169.8" r="6.5"/><circle cx="492.3" cy="1166.9" r="6.5"/><circle cx="503.7" cy="1156.0" r="6.5"/><circle cx="515.2" cy="1160.4" r="6.5"/><circle cx="526.7" cy="1156.1" r="6.5"/><circle cx="538.1" cy="1159.0" r="6.5"/><circle cx="549.6" cy="1167.7" r="6.5"/><circle cx="561.1" cy="1161.9" r="6.5"/><circle cx="572.6" cy="1153.9" r="6.5"/><circle cx="584.0" cy="1147.4" r="6.5"/><circle cx="595.5" cy="1159.7" r="6.5"/><circle cx="607.0" cy="1161.9" r="6.5"/><circle cx="618.4" cy="1169.1" r="6.5"/><circle cx="629.9" cy="1153.9" r="6.5"/><circle cx="641.4" cy="1163.3" r="6.5"/><circle cx="652.8" cy="1165.5" r="6.5"/><circle cx="664.3" cy="1161.9" r="6.5"/><circle cx="675.8" cy="1161.9" r="6.5"/><circle cx="687.3" cy="1153.2" r="6.5"/><circle cx="698.7" cy="1157.5" r="6.5"/><circle cx="710.2" cy="1159.7" r="6.5"/><circle cx="721.7" cy="1155.4" r="6.5"/><circle cx="733.1" cy="1161.9" r="6.5"/><circle cx="744.6" cy="1164.8" r="6.5"/><circle cx="756.1" cy="1159.0" r="6.5"/><circle cx="767.5" cy="1151.8" r="6.5"/><circle cx="779.0" cy="1148.9" r="6.5"/><circle cx="790.5" cy="1158.7" r="6.5"/><circle cx="802.0" cy="1172.6" r="6.5"/><circle cx="813.4" cy="1165.6" r="6.5"/><circle cx="824.9" cy="1159.3" r="6.5"/><circle cx="836.4" cy="1154.1" r="6.5"/><circle cx="847.8" cy="1162.2" r="6.5"/><circle cx="859.3" cy="1153.5" r="6.5"/><circle cx="870.8" cy="1154.7" r="6.5"/><circle cx="882.2" cy="1163.3" r="6.5"/><circle cx="893.7" cy="1151.2" r="6.5"/><circle cx="905.2" cy="1159.9" r="6.5"/><circle cx="916.7" cy="1164.5" r="6.5"/><circle cx="928.1" cy="1158.1" r="6.5"/><circle cx="939.6" cy="1170.3" r="6.5"/><circle cx="951.1" cy="1169.7" r="6.5"/><circle cx="962.5" cy="1159.3" r="6.5"/><circle cx="974.0" cy="1168.0" r="6.5"/><circle cx="985.5" cy="1176.6" r="6.5"/></g>
<g fill="#e377c2"><circle cx="136.7" cy="708.0" r="6.5"/><circle cx="148.2" cy="699.3" r="6.5"/><circle cx="159.6" cy="704.7" r="6.5"/><circle cx="171.1" cy="762.0" r="6.5"/><circle cx="182.6" cy="792.7" r="6.5"/><circle cx="194.0" cy="811.2" r="6.5"/><circle cx="205.5" cy="840.2" r="6.5"/><circle cx="217.0" cy="858.9" r="6.5"/><circle cx="228.5" cy="889.9" r="6.5"/><circle cx="239.9" cy="955.0" r="6.5"/><circle cx="251.4" cy="1081.9" r="6.5"/><circle cx="262.9" cy="1017.7" r="6.5"/><circle cx="274.3" cy="1045.7" r="6.5"/><circle cx="285.8" cy="1053.5" r="6.5"/><circle cx="297.3" cy="1063.6" r="6.5"/><circle cx="308.8" cy="1065.5" r="6.5"/><circle cx="320.2" cy="1069.9" r="6.5"/><circle cx="331.7" cy="1095.6" r="6.5"/><circle cx="343.2" cy="1121.3" r="6.5"/><circle cx="354.6" cy="1159.6" r="6.5"/><circle cx="366.1" cy="1153.1" r="6.5"/><circle cx="377.6" cy="1160.3" r="6.5"/><circle cx="389.0" cy="1155.3" r="6.5"/><circle cx="400.5" cy="1162.5" r="6.5"/><circle cx="412.0" cy="1148.0" r="6.5"/><circle cx="423.4" cy="1164.0" r="6.5"/><circle cx="434.9" cy="1168.3" r="6.5"/><circle cx="446.4" cy="1161.1" r="6.5"/><circle cx="457.9" cy="1154.6" r="6.5"/><circle cx="469.3" cy="1146.6" r="6.5"/><circle cx="480.8" cy="1152.4" r="6.5"/><circle cx="492.3" cy="1159.6" r="6.5"/><circle cx="503.7" cy="1152.4" r="6.5"/><circle cx="515.2" cy="1156.8" r="6.5"/><circle cx="526.7" cy="1172.0" r="6.5"/><circle cx="538.1" cy="1161.2" r="6.5"/><circle cx="549.6" cy="1161.2" r="6.5"/><circle cx="561.1" cy="1166.9" r="6.5"/><circle cx="572.6" cy="1169.1" r="6.5"/><circle cx="584.0" cy="1162.6" r="6.5"/><circle cx="595.5" cy="1164.1" r="6.5"/><circle cx="607.0" cy="1167.7" r="6.5"/><circle cx="618.4" cy="1164.1" r="6.5"/><circle cx="629.9" cy="1156.8" r="6.5"/><circle cx="641.4" cy="1165.5" r="6.5"/><circle cx="652.8" cy="1162.6" r="6.5"/><circle cx="664.3" cy="1165.5" r="6.5"/><circle cx="675.8" cy="1163.3" r="6.5"/><circle cx="687.3" cy="1159.7" r="6.5"/><circle cx="698.7" cy="1163.3" r="6.5"/><circle cx="710.2" cy="1169.1" r="6.5"/><circle cx="721.7" cy="1168.4" r="6.5"/><circle cx="733.1" cy="1166.2" r="6.5"/><circle cx="744.6" cy="1172.0" r="6.5"/><circle cx="756.1" cy="1148.1" r="6.5"/><circle cx="767.5" cy="1165.5" r="6.5"/><circle cx="779.0" cy="1166.2" r="6.5"/><circle cx="790.5" cy="1172.6" r="6.5"/><circle cx="802.0" cy="1162.2" r="6.5"/><circle cx="813.4" cy="1172.0" r="6.5"/><circle cx="824.9" cy="1164.5" r="6.5"/><circle cx="836.4" cy="1163.9" r="6.5"/><circle cx="847.8" cy="1167.4" r="6.5"/><circle cx="859.3" cy="1158.1" r="6.5"/><circle cx="870.8" cy="1170.8" r="6.5"/><circle cx="882.2" cy="1159.9" r="6.5"/><circle cx="893.7" cy="1164.5" r="6.5"/><circle cx="905.2" cy="1161.0" r="6.5"/><circle cx="916.7" cy="1169.1" r="6.5"/><circle cx="928.1" cy="1168.5" r="6.5"/><circle cx="939.6" cy="1165.6" r="6.5"/><circle cx="951.1" cy="1168.5" r="6.5"/><circle cx="962.5" cy="1158.1" r="6.5"/><circle cx="974.0" cy="1164.5" r="6.5"/><circle cx="985.5" cy="1176.6" r="6.5"/></g>
</g>
<line x1="94.25" y1="1152.50" x2="1027.75" y2="1152.50" stroke="#000" stroke-width="2.80" stroke-dasharray="10.3 4.45"/>
<line x1="365.50" y1="675.75" x2="365.50" y2="1200.20" stroke="#000" stroke-width="2.80"/>
<rect x="94.25" y="675.75" width="933.50" height="524.45" fill="none" stroke="#000" stroke-width="1.49"/>
<line x1="136.50" y1="1200.20" x2="136.50" y2="1206.70" stroke="#000" stroke-width="1.49"/>
<text x="136.70" y="1233.30" font-size="26.00" text-anchor="middle">0</text>
<line x1="251.50" y1="1200.20" x2="251.50" y2="1206.70" stroke="#000" stroke-width="1.49"/>
<text x="251.40" y="1233.30" font-size="26.00" text-anchor="middle">2000</text>
<line x1="366.50" y1="1200.20" x2="366.50" y2="1206.70" stroke="#000" stroke-width="1.49"/>
<text x="366.10" y="1233.30" font-size="26.00" text-anchor="middle">4000</text>
<line x1="480.50" y1="1200.20" x2="480.50" y2="1206.70" stroke="#000" stroke-width="1.49"/>
<text x="480.80" y="1233.30" font-size="26.00" text-anchor="middle">6000</text>
<line x1="595.50" y1="1200.20" x2="595.50" y2="1206.70" stroke="#000" stroke-width="1.49"/>
<text x="595.50" y="1233.30" font-size="26.00" text-anchor="middle">8000</text>
<line x1="710.50" y1="1200.20" x2="710.50" y2="1206.70" stroke="#000" stroke-width="1.49"/>
<text x="710.20" y="1233.30" font-size="26.00" text-anchor="middle">10000</text>
<line x1="824.50" y1="1200.20" x2="824.50" y2="1206.70" stroke="#000" stroke-width="1.49"/>
<text x="824.90" y="1233.30" font-size="26.00" text-anchor="middle">12000</text>
<line x1="939.50" y1="1200.20" x2="939.50" y2="1206.70" stroke="#000" stroke-width="1.49"/>
<text x="939.60" y="1233.30" font-size="26.00" text-anchor="middle">14000</text>
<line x1="87.75" y1="1176.50" x2="94.25" y2="1176.50" stroke="#000" stroke-width="1.49"/>
<text x="81.40" y="1187.00" font-size="26.00" text-anchor="end">0.0</text>
<line x1="87.75" y1="1081.50" x2="94.25" y2="1081.50" stroke="#000" stroke-width="1.49"/>
<text x="81.40" y="1091.64" font-size="26.00" text-anchor="end">0.2</text>
<line x1="87.75" y1="985.50" x2="94.25" y2="985.50" stroke="#000" stroke-width="1.49"/>
<text x="81.40" y="996.28" font-size="26.00" text-anchor="end">0.4</text>
<line x1="87.75" y1="890.50" x2="94.25" y2="890.50" stroke="#000" stroke-width="1.49"/>
<text x="81.40" y="900.92" font-size="26.00" text-anchor="end">0.6</text>
<line x1="87.75" y1="794.50" x2="94.25" y2="794.50" stroke="#000" stroke-width="1.49"/>
<text x="81.40" y="805.56" font-size="26.00" text-anchor="end">0.8</text>
<line x1="87.75" y1="699.50" x2="94.25" y2="699.50" stroke="#000" stroke-width="1.49"/>
<text x="81.40" y="710.20" font-size="26.00" text-anchor="end">1.0</text>
<rect x="620.80" y="690.20" width="391.80" height="399.40" rx="6" ry="6" fill="#fff" fill-opacity="0.8" stroke="#ccc" stroke-opacity="0.8" stroke-width="1.9"/>
<line x1="632.70" y1="713.80" x2="692.30" y2="713.80" stroke="#000" stroke-width="2.80" stroke-dasharray="10.3 4.464"/>
<text x="716.10" y="724.80" font-size="29.63">KS=0.05 Threshold</text>
<line x1="632.70" y1="757.50" x2="692.30" y2="757.50" stroke="#000" stroke-width="2.80" stroke-linecap="square"/>
<text x="716.10" y="768.17" font-size="29.63">Convergence Step</text>
<circle cx="662.50" cy="803.94" r="6.5" fill="#1f77b4"/>
<text x="716.10" y="811.54" font-size="29.63"><tspan font-style="italic">P</tspan></text>
<circle cx="662.50" cy="847.31" r="6.5" fill="#ff7f0e"/>
<text x="716.10" y="854.91" font-size="29.63"><tspan font-style="italic">e</tspan></text>
<circle cx="662.50" cy="890.68" r="6.5" fill="#2ca02c"/>
<text x="716.10" y="898.28" font-size="29.63"><tspan font-style="italic">i</tspan></text>
<circle cx="662.50" cy="934.05" r="6.5" fill="#d62728"/>
<text x="716.10" y="941.65" font-size="29.63"><tspan font-style="italic">ω</tspan></text>
<circle cx="662.50" cy="977.42" r="6.5" fill="#9467bd"/>
<text x="716.10" y="985.02" font-size="29.63">Ω</text>
<circle cx="662.50" cy="1020.79" r="6.5" fill="#8c564b"/>
<text x="716.10" y="1028.39" font-size="29.63"><tspan font-style="italic">τ</tspan></text>
<circle cx="662.50" cy="1064.16" r="6.5" fill="#e377c2"/>
<text x="716.10" y="1071.76" font-size="29.63"><tspan font-style="italic">K</tspan></text>
<text x="561.40" y="29.3" font-size="35.60" text-anchor="middle">Standard Basis Sample Running KS Statistic</text>
<text x="561.60" y="664.2" font-size="35.60" text-anchor="middle">SemiAmp Basis Sample Running KS Statistic</text>
<text x="561.20" y="1268.4" font-size="29.68" text-anchor="middle">Step Count</text>
<text transform="translate(25.5 304.18) rotate(-90)" font-size="29.80" text-anchor="middle">KS Statistic</text>
<text transform="translate(25.5 938.98) rotate(-90)" font-size="29.80" text-anchor="middle">KS Statistic</text>
<path d="M1201.95 1200.20 L1201.95 979.27 L1320.51 979.27 L1320.51 979.27 L1439.07 979.27 L1439.07 316.48 L1557.63 316.48 L1557.63 537.41 L1676.19 537.41 L1676.19 758.34 L1794.75 758.34 L1794.75 1200.20 L1913.31 1200.20 L1913.31 979.27 L2031.87 979.27 L2031.87 1200.20 Z" fill="#00008b" fill-opacity="0.5"/>
<path d="M1201.95 1200.20 L1201.95 316.48 L1320.51 316.48 L1320.51 95.55 L1439.07 95.55 L1439.07 758.34 L1557.63 758.34 L1557.63 1200.20 L1676.19 1200.20 L1676.19 979.27 L1794.75 979.27 L1794.75 1200.20 L1913.31 1200.20 L1913.31 1200.20 L2031.87 1200.20 L2031.87 1200.20 Z" fill="#ffa500" fill-opacity="0.5"/>
<line x1="1544.50" y1="1200.20" x2="1544.50" y2="40.75" stroke="#00008b" stroke-width="2.80" stroke-dasharray="10.3 4.464"/>
<line x1="1326.50" y1="1200.20" x2="1326.50" y2="40.75" stroke="#ffa500" stroke-width="2.80" stroke-dasharray="10.3 4.464"/>
<rect x="1124.25" y="40.75" width="934.00" height="1159.45" fill="none" stroke="#000" stroke-width="1.49"/>
<line x1="1201.50" y1="1200.20" x2="1201.50" y2="1206.70" stroke="#000" stroke-width="1.49"/>
<text x="1201.95" y="1233.30" font-size="26.00" text-anchor="middle">4000</text>
<line x1="1305.50" y1="1200.20" x2="1305.50" y2="1206.70" stroke="#000" stroke-width="1.49"/>
<text x="1305.69" y="1233.30" font-size="26.00" text-anchor="middle">5000</text>
<line x1="1409.50" y1="1200.20" x2="1409.50" y2="1206.70" stroke="#000" stroke-width="1.49"/>
<text x="1409.43" y="1233.30" font-size="26.00" text-anchor="middle">6000</text>
<line x1="1513.50" y1="1200.20" x2="1513.50" y2="1206.70" stroke="#000" stroke-width="1.49"/>
<text x="1513.17" y="1233.30" font-size="26.00" text-anchor="middle">7000</text>
<line x1="1616.50" y1="1200.20" x2="1616.50" y2="1206.70" stroke="#000" stroke-width="1.49"/>
<text x="1616.91" y="1233.30" font-size="26.00" text-anchor="middle">8000</text>
<line x1="1720.50" y1="1200.20" x2="1720.50" y2="1206.70" stroke="#000" stroke-width="1.49"/>
<text x="1720.65" y="1233.30" font-size="26.00" text-anchor="middle">9000</text>
<line x1="1824.50" y1="1200.20" x2="1824.50" y2="1206.70" stroke="#000" stroke-width="1.49"/>
<text x="1824.39" y="1233.30" font-size="26.00" text-anchor="middle">10000</text>
<line x1="1928.50" y1="1200.20" x2="1928.50" y2="1206.70" stroke="#000" stroke-width="1.49"/>
<text x="1928.13" y="1233.30" font-size="26.00" text-anchor="middle">11000</text>
<line x1="2031.50" y1="1200.20" x2="2031.50" y2="1206.70" stroke="#000" stroke-width="1.49"/>
<text x="2031.87" y="1233.30" font-size="26.00" text-anchor="middle">12000</text>
<line x1="1117.75" y1="1200.50" x2="1124.25" y2="1200.50" stroke="#000" stroke-width="1.49"/>
<text x="1112.00" y="1210.80" font-size="26.00" text-anchor="end">0</text>
<line x1="1117.75" y1="979.50" x2="1124.25" y2="979.50" stroke="#000" stroke-width="1.49"/>
<text x="1112.00" y="989.87" font-size="26.00" text-anchor="end">1</text>
<line x1="1117.75" y1="758.50" x2="1124.25" y2="758.50" stroke="#000" stroke-width="1.49"/>
<text x="1112.00" y="768.94" font-size="26.00" text-anchor="end">2</text>
<line x1="1117.75" y1="537.50" x2="1124.25" y2="537.50" stroke="#000" stroke-width="1.49"/>
<text x="1112.00" y="548.01" font-size="26.00" text-anchor="end">3</text>
<line x1="1117.75" y1="316.50" x2="1124.25" y2="316.50" stroke="#000" stroke-width="1.49"/>
<text x="1112.00" y="327.08" font-size="26.00" text-anchor="end">4</text>
<line x1="1117.75" y1="95.50" x2="1124.25" y2="95.50" stroke="#000" stroke-width="1.49"/>
<text x="1112.00" y="106.15" font-size="26.00" text-anchor="end">5</text>
<text x="1591.65" y="29.3" font-size="35.60" text-anchor="middle">Distribution of Convergence Steps</text>
<text x="1591.05" y="1268.3" font-size="29.56" text-anchor="middle">Convergence Steps</text>
<text transform="translate(1082.7 621.68) rotate(-90)" font-size="29.80" text-anchor="middle">Count</text>
<rect x="1584.10" y="55.30" width="458.90" height="182.20" rx="6" ry="6" fill="#fff" fill-opacity="0.8" stroke="#ccc" stroke-opacity="0.8" stroke-width="1.9"/>
<line x1="1596.00" y1="79.0" x2="1655.60" y2="79.0" stroke="#00008b" stroke-width="2.80" stroke-dasharray="10.3 4.464"/>
<text x="1679.40" y="90.00" font-size="29.63">Standard Median Steps</text>
<line x1="1596.00" y1="122.6" x2="1655.60" y2="122.6" stroke="#ffa500" stroke-width="2.80" stroke-dasharray="10.3 4.464"/>
<text x="1679.40" y="133.30" font-size="29.63">SemiAmp Median Steps</text>
<rect x="1596.00" y="155.3" width="59.6" height="20.5" fill="#00008b" fill-opacity="0.5"/>
<text x="1679.40" y="176.60" font-size="29.63">Standard Basis Steps</text>
<rect x="1596.00" y="199.0" width="59.6" height="20.5" fill="#ffa500" fill-opacity="0.5"/>
<text x="1679.40" y="219.90" font-size="29.63">SemiAmp Basis Steps</text>
</svg></body></html>
